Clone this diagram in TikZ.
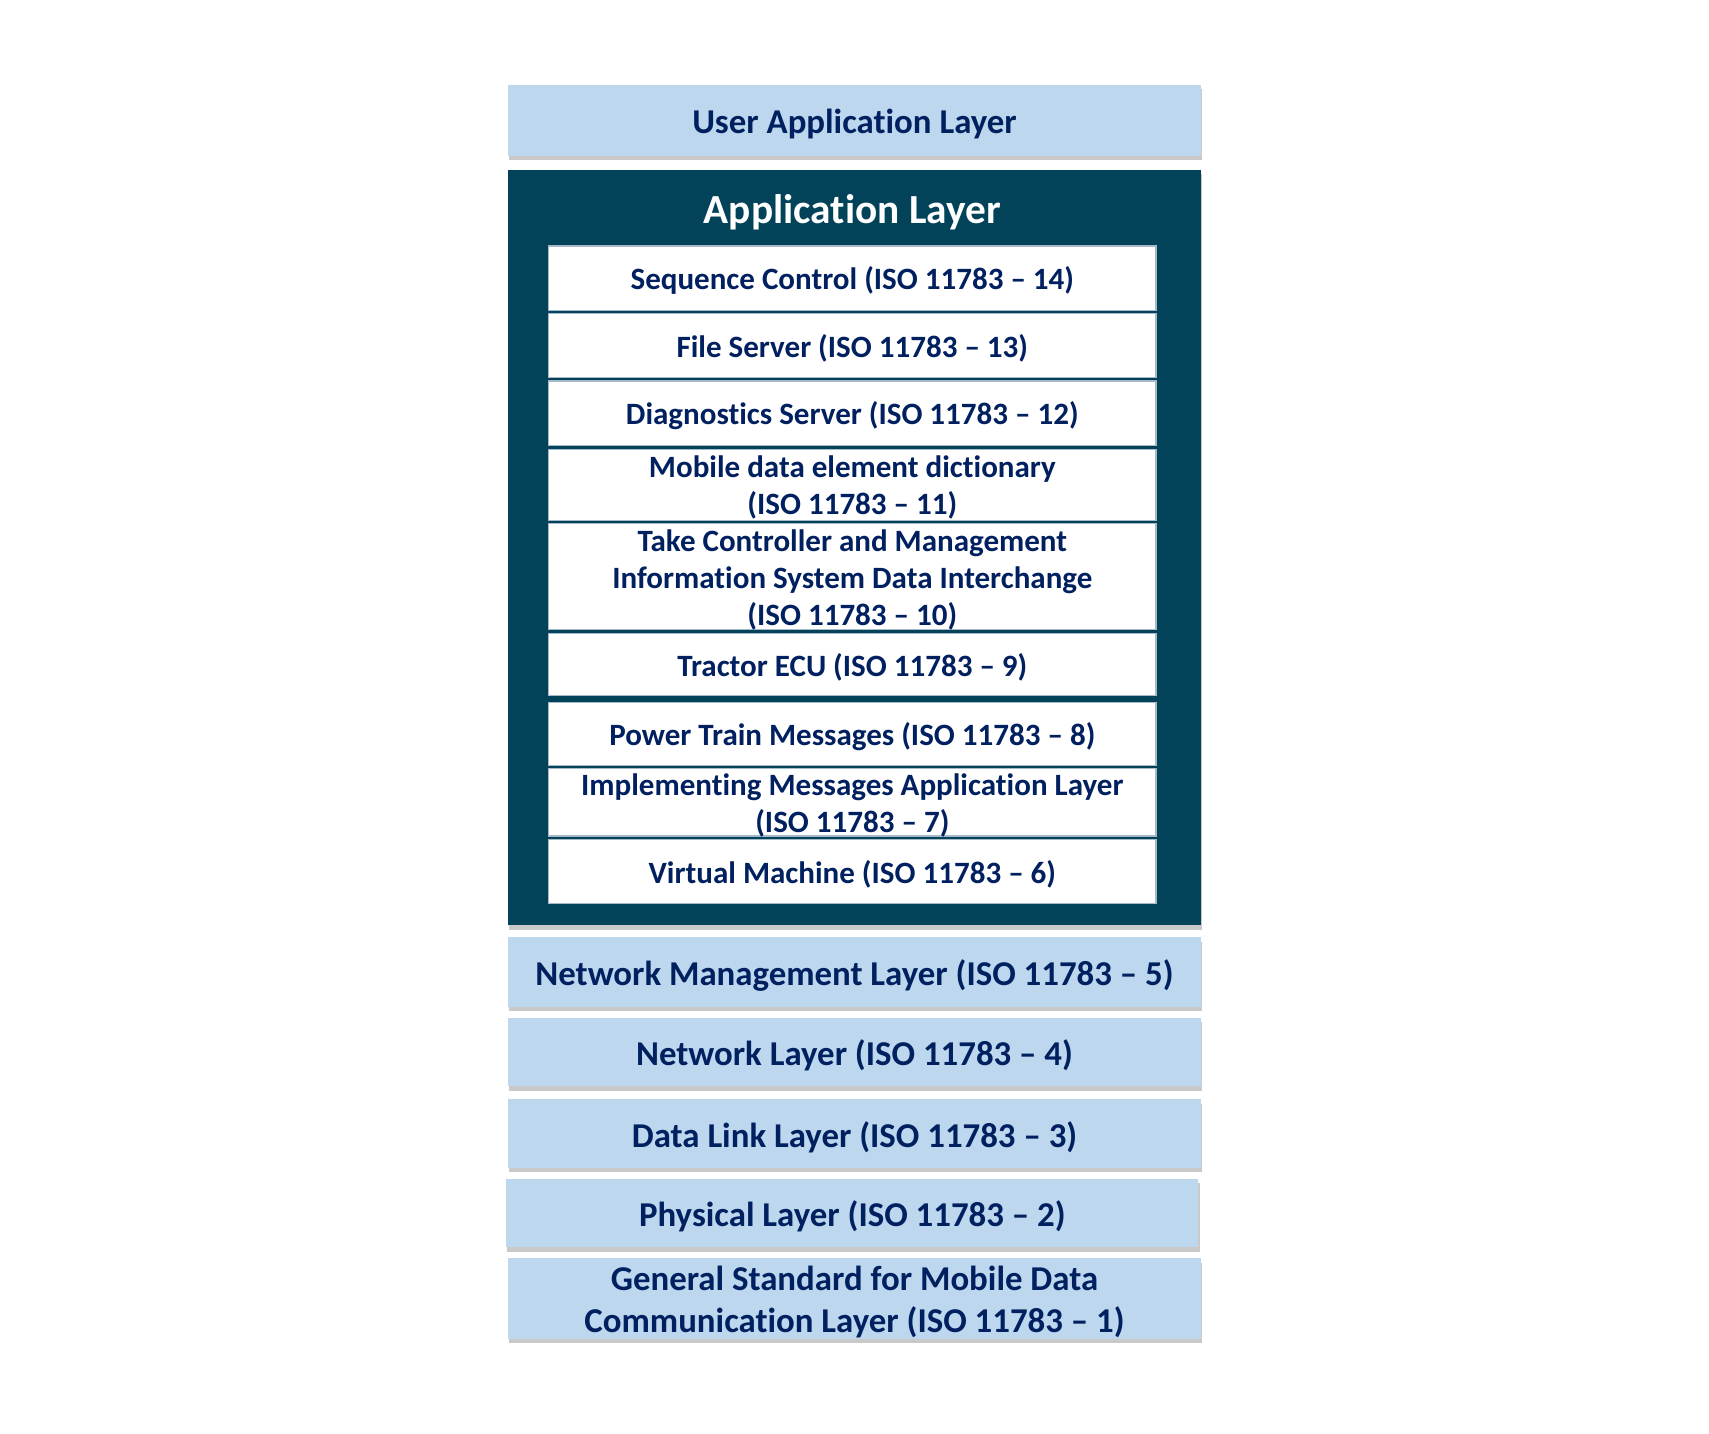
\documentclass[tikz,border=0pt]{standalone}
\usepackage{fontspec}
\setmainfont{Carlito}[Ligatures=NoCommon]
\usetikzlibrary{shadows}
\definecolor{lightbl}{RGB}{189,215,238}
\definecolor{darkteal}{RGB}{2,67,90}
\definecolor{navy}{RGB}{0,32,96}
\definecolor{edgegray}{RGB}{165,185,200}
\begin{document}
\begin{tikzpicture}[x=1pt,y=-1pt,
  layer/.style={fill=lightbl, minimum width=636pt, inner sep=0pt,
    drop shadow={shadow xshift=1pt, shadow yshift=-4pt, opacity=0.35, fill=black!60}},
  sub/.style={fill=white, draw=edgegray, line width=1pt, minimum width=558pt, inner sep=0pt},
  ltext/.style={text=navy, inner sep=0pt, font=\fontsize{32}{39}\selectfont\bfseries, align=center},
  stext/.style={text=navy, inner sep=0pt, font=\fontsize{28.5}{34}\selectfont\bfseries, align=center}]
\useasboundingbox (0,0) rectangle (1570,1317);
\fill[white] (0,0) rectangle (1570,1317);
% top layer
\node[layer, minimum height=65pt] (user) at (785,110.5) {};
\node[ltext] (usert) at ([yshift=-3pt]user.center) {User Application Layer};
% application layer container
\node[fill=darkteal, minimum width=636pt, minimum height=694pt, inner sep=0pt,
  drop shadow={shadow xshift=1pt, shadow yshift=-4pt, opacity=0.35, fill=black!60}] (app) at (785,503) {};
\node[text=white, font=\fontsize{38}{46}\selectfont\bfseries] (apptitle) at (783,195) {Application Layer};
\node[sub, minimum height=59pt] (p14) at (783,255.5) {};
\node[sub, minimum height=59pt] (p13) at (783,317.5) {};
\node[sub, minimum height=59pt] (p12) at (783,379.5) {};
\node[sub, minimum height=65pt] (p11) at (783,445.5) {};
\node[sub, minimum height=97pt] (p10) at (783,529.5) {};
\node[sub, minimum height=57pt] (p9) at (783,610.5) {};
\node[sub, minimum height=58pt] (p8) at (783,674) {};
\node[sub, minimum height=62pt] (p7) at (783,737) {};
\node[sub, minimum height=59pt] (p6) at (783,800.5) {};
\node[stext] (p14t) at ([yshift=-2.5pt]p14.center) {Sequence Control (ISO 11783 \textendash{} 14)};
\node[stext] (p13t) at ([yshift=-2.5pt]p13.center) {File Server (ISO 11783 \textendash{} 13)};
\node[stext] (p12t) at ([yshift=-2.5pt]p12.center) {Diagnostics Server (ISO 11783 \textendash{} 12)};
\node[stext] (p11t) at ([yshift=-2.5pt]p11.center) {Mobile data element dictionary\\(ISO 11783 \textendash{} 11)};
\node[stext] (p10t) at ([yshift=-3pt]p10.center) {Take Controller and Management\\Information System Data Interchange\\(ISO 11783 \textendash{} 10)};
\node[stext] (p9t) at ([yshift=-2.5pt]p9.center) {Tractor ECU (ISO 11783 \textendash{} 9)};
\node[stext] (p8t) at ([yshift=-2.5pt]p8.center) {Power Train Messages (ISO 11783 \textendash{} 8)};
\node[stext] (p7t) at ([yshift=-2.5pt]p7.center) {Implementing Messages Application Layer\\(ISO 11783 \textendash{} 7)};
\node[stext] (p6t) at ([yshift=-3pt]p6.center) {Virtual Machine (ISO 11783 \textendash{} 6)};
% lower layers
\node[layer, minimum height=64pt] (p5) at (785,893) {};
\node[layer, minimum height=63pt] (p4) at (785,966.5) {};
\node[layer, minimum height=63pt] (p3) at (785,1041.5) {};
\node[layer, minimum height=63pt] (p2) at (783,1114.5) {};
\node[layer, minimum height=74pt] (p1) at (785,1193) {};
\node[ltext] (p5t) at ([yshift=-3pt]p5.center) {Network Management Layer (ISO 11783 \textendash{} 5)};
\node[ltext] (p4t) at ([yshift=-3pt]p4.center) {Network Layer (ISO 11783 \textendash{} 4)};
\node[ltext] (p3t) at ([yshift=-3pt]p3.center) {Data Link Layer (ISO 11783 \textendash{} 3)};
\node[ltext] (p2t) at ([yshift=-3pt]p2.center) {Physical Layer (ISO 11783 \textendash{} 2)};
\node[ltext] (p1t) at ([yshift=-3pt]p1.center) {General Standard for Mobile Data\\Communication Layer (ISO 11783 \textendash{} 1)};
\end{tikzpicture}
\end{document}
